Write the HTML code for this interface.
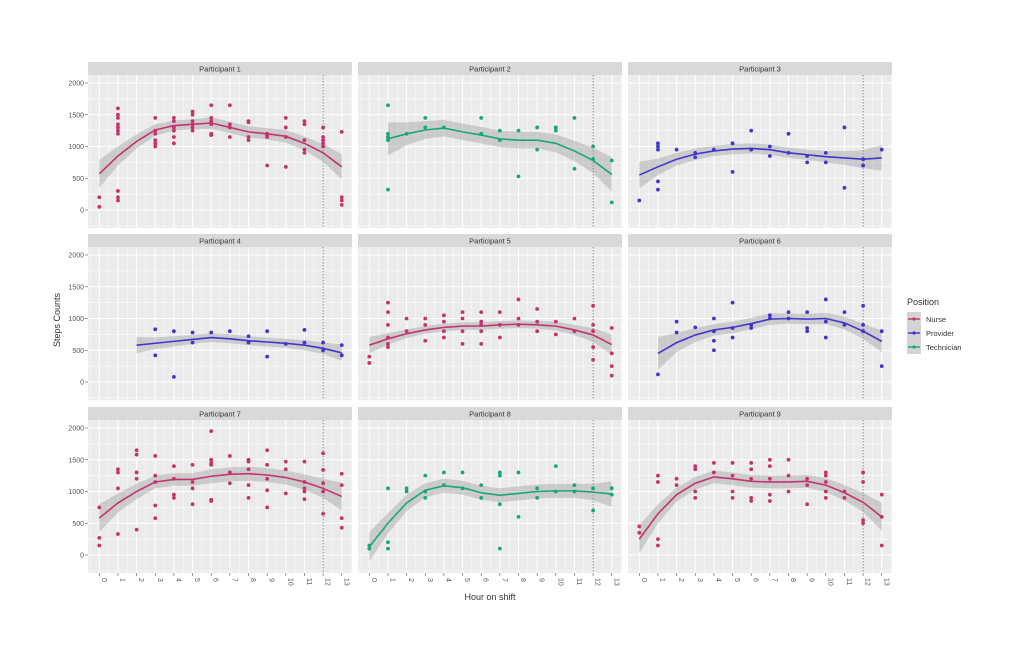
<!DOCTYPE html>
<html><head><meta charset="utf-8"><style>
body{margin:0;background:#fff;}
svg{display:block;font-family:"Liberation Sans",sans-serif;}
</style></head><body>
<svg id="chart" width="1024" height="663" viewBox="0 0 1024 663" xmlns="http://www.w3.org/2000/svg">
<text x="0" y="0" transform="translate(60,320) rotate(-90)" text-anchor="middle" font-size="9" fill="#333">Steps Counts</text>
<text x="490" y="600" text-anchor="middle" font-size="9" fill="#333">Hour on shift</text>
<g>
<text x="907" y="305" font-size="9" fill="#333">Position</text>
</g>
</svg>
<script>
const titles = ["Participant 1","Participant 2","Participant 3","Participant 4","Participant 5","Participant 6","Participant 7","Participant 8","Participant 9"];
const roles = ["nurse","technician","provider","provider","nurse","provider","nurse","technician","nurse"];
const yTicks = [0,500,1000,1500,2000];
const hourTicks = [0,1,2,3,4,5,6,7,8,9,10,11,12,13];
const points = [
 [[0,200],[0,50],[1,1600],[1,1500],[1,1450],[1,1350],[1,1300],[1,1250],[1,1200],[1,300],[1,200],[1,150],[3,1450],[3,1250],[3,1200],[3,1100],[3,1050],[3,1000],[4,1450],[4,1400],[4,1300],[4,1250],[4,1150],[4,1050],[5,1550],[5,1500],[5,1400],[5,1350],[5,1300],[5,1250],[6,1650],[6,1450],[6,1400],[6,1350],[6,1200],[6,1180],[7,1650],[7,1350],[7,1300],[7,1150],[8,1400],[8,1380],[8,1150],[8,1100],[9,1200],[9,1180],[9,1150],[9,700],[10,1450],[10,1300],[10,1150],[10,680],[11,1400],[11,1350],[11,1100],[11,950],[11,900],[12,1300],[12,1150],[12,1100],[12,1050],[12,1000],[13,1230],[13,200],[13,150],[13,80]],
 [[1,1650],[1,1200],[1,1150],[1,1100],[1,320],[2,1200],[3,1450],[3,1300],[4,1300],[6,1450],[6,1200],[7,1250],[7,1100],[8,1250],[8,530],[9,1300],[9,950],[10,1300],[10,1250],[11,1450],[11,650],[12,800],[12,1000],[13,780],[13,120]],
 [[0,150],[1,1050],[1,1000],[1,950],[1,450],[1,320],[2,950],[3,900],[3,830],[4,950],[5,1050],[5,600],[6,1250],[6,950],[7,1000],[7,850],[8,1200],[8,900],[9,850],[9,750],[10,900],[10,750],[11,1300],[11,350],[12,800],[12,700],[13,950]],
 [[3,830],[3,420],[4,800],[4,80],[5,780],[5,620],[6,780],[7,800],[8,720],[8,620],[9,800],[9,400],[10,600],[11,820],[11,620],[12,620],[12,500],[13,580],[13,420]],
 [[0,400],[0,300],[1,1250],[1,1100],[1,900],[1,700],[1,600],[1,550],[2,1000],[2,800],[3,1000],[3,900],[3,650],[4,1050],[4,950],[4,800],[4,700],[5,1100],[5,1000],[5,800],[5,600],[6,1100],[6,950],[6,900],[6,800],[6,600],[7,1100],[7,900],[7,700],[8,1300],[8,1000],[8,900],[9,1150],[9,950],[9,800],[10,950],[10,750],[11,1000],[11,800],[12,1200],[12,900],[12,800],[12,550],[12,350],[13,850],[13,450],[13,250],[13,100]],
 [[1,120],[2,950],[2,780],[3,860],[4,1000],[4,800],[4,650],[4,500],[5,1250],[5,850],[5,700],[6,900],[6,850],[7,1050],[7,1000],[8,1100],[8,1000],[9,1100],[9,850],[9,800],[10,1300],[10,950],[10,700],[11,1100],[11,900],[12,1200],[12,900],[12,800],[13,800],[13,250]],
 [[0,750],[0,270],[0,150],[1,1350],[1,1300],[1,1050],[1,330],[2,1650],[2,1580],[2,1300],[2,1200],[2,400],[3,1560],[3,1250],[3,1150],[3,780],[3,580],[4,1400],[4,950],[4,900],[4,1200],[5,1420],[5,1150],[5,1050],[5,800],[6,1950],[6,1500],[6,1450],[6,1420],[6,870],[6,850],[7,1560],[7,1300],[7,1130],[8,1500],[8,1470],[8,1350],[8,1100],[8,900],[9,1650],[9,1420],[9,1200],[9,1020],[9,750],[10,1470],[10,1350],[10,970],[11,1470],[11,1150],[11,1050],[11,1000],[11,880],[12,1600],[12,1340],[12,1130],[12,1000],[12,650],[13,1280],[13,1100],[13,580],[13,430]],
 [[0,150],[0,100],[1,1050],[1,200],[1,100],[2,1050],[2,1000],[3,1250],[3,1000],[3,900],[4,1300],[4,1100],[5,1300],[5,1050],[6,1100],[6,900],[7,1300],[7,1250],[7,800],[7,100],[8,1300],[8,600],[9,1050],[9,900],[10,1400],[10,1000],[11,1000],[11,1100],[12,1050],[12,700],[13,1050],[13,950]],
 [[0,450],[0,350],[1,1250],[1,1150],[1,250],[1,150],[2,1100],[2,1200],[3,1400],[3,1350],[3,1000],[3,900],[4,1450],[4,1300],[5,1450],[5,1250],[5,1000],[5,900],[6,1450],[6,1350],[6,1200],[6,900],[6,850],[7,1500],[7,1400],[7,1200],[7,950],[7,850],[8,1500],[8,1250],[8,1000],[9,1200],[9,1100],[9,800],[10,1300],[10,1250],[10,1150],[10,1000],[10,900],[11,1000],[11,900],[12,1300],[12,1150],[12,550],[12,500],[13,950],[13,600],[13,150]]
];
const smoothHours = [
 [0,1,2,3,4,5,6,7,8,9,10,11,12,13],[1,2,3,4,5,6,7,8,9,10,11,12,13],[0,1,2,3,4,5,6,7,8,9,10,11,12,13],
 [2,3,4,5,6,7,8,9,10,11,12,13],[0,1,2,3,4,5,6,7,8,9,10,11,12,13],[1,2,3,4,5,6,7,8,9,10,11,12,13],
 [0,1,2,3,4,5,6,7,8,9,10,11,12,13],[0,1,2,3,4,5,6,7,8,9,10,11,12,13],[0,1,2,3,4,5,6,7,8,9,10,11,12,13]
];
const smoothVals = [
 [570,850,1080,1260,1330,1350,1370,1300,1230,1200,1160,1050,900,680],
 [1120,1200,1260,1290,1230,1180,1120,1100,1100,1050,930,780,560],
 [550,680,800,880,930,960,970,950,900,870,840,820,800,820],
 [580,610,640,670,700,680,650,630,610,580,530,460],
 [580,680,760,820,860,880,880,900,910,900,880,820,740,590],
 [450,620,740,820,860,920,990,1000,990,1000,930,800,640],
 [580,820,1000,1150,1190,1190,1240,1270,1280,1260,1220,1150,1050,920],
 [130,500,820,1020,1090,1060,980,940,970,1000,1010,1010,990,960],
 [250,650,950,1130,1230,1200,1160,1150,1150,1160,1100,980,830,600]
];
const bandHalf = [
 [220,150,110,90,80,80,90,90,90,90,100,110,140,200],
 [260,180,140,130,130,130,130,130,130,140,160,200,270],
 [210,130,100,90,80,80,80,80,80,80,90,110,140,200],
 [130,90,80,70,70,70,70,70,70,80,90,130],
 [130,90,70,60,60,60,60,60,60,60,70,80,110,160],
 [260,150,110,90,90,90,90,80,80,90,100,120,170],
 [220,150,120,100,100,100,110,110,110,110,110,120,150,220],
 [230,160,130,110,110,110,110,110,110,110,110,110,130,200],
 [220,150,110,100,100,100,100,100,100,100,110,120,150,220]
];
const roleColor = {nurse:"#c4336f",provider:"#4234cf",technician:"#16a77b"};
const NS="http://www.w3.org/2000/svg";
const svg=document.getElementById("chart");
const colX=[88,358,628], rowY=[62,234,407], PW=264, SH=13, PH=153;
function mk(t,a,p){const e=document.createElementNS(NS,t);for(const k in a)e.setAttribute(k,a[k]);(p||svg).appendChild(e);return e;}
for(let i=0;i<9;i++){
  const c=i%3,r=Math.floor(i/3);
  const x0=colX[c], st=rowY[r], pt=st+SH;
  const xs=h=>x0+11.3+h*18.65;
  const ys=v=>pt+135-v*127/2000;
  const g=mk("g",{});
  
  
  const strip=mk("rect",{x:x0,y:st,width:PW,height:SH,fill:"#d9d9d9"},g);
  
  
  const tt=mk("text",{x:x0+PW/2,y:st+9.5,"text-anchor":"middle","font-size":"7.5",fill:"#333"},g);tt.textContent=titles[i];
  mk("rect",{x:x0,y:pt,width:PW,height:PH,fill:"#ebebeb"},g);
  for(let v=-250;v<=2250;v+=250){const y=ys(v);if(y<pt||y>pt+PH)continue;mk("line",{x1:x0,x2:x0+PW,y1:y,y2:y,stroke:"#fff","stroke-width":v%500===0?1:0.5},g);}
  for(let h=-0.5;h<=13.5;h+=0.5){const x=xs(h);if(x<x0||x>x0+PW)continue;mk("line",{x1:x,x2:x,y1:pt,y2:pt+PH,stroke:"#fff","stroke-width":h%1===0?1:0.5},g);}
  mk("line",{x1:xs(12),x2:xs(12),y1:pt,y2:pt+PH,stroke:"#555","stroke-width":0.7,"stroke-dasharray":"1.5,1.5"},g);
  if(c===0){yTicks.forEach(v=>{const y=ys(v);mk("line",{x1:x0-3,x2:x0,y1:y,y2:y,stroke:"#555","stroke-width":0.6},g);const t=mk("text",{x:x0-4,y:y+2.5,"text-anchor":"end","font-size":"7",fill:"#555"},g);t.textContent=v;});}
  if(r===2){hourTicks.forEach(h=>{const x=xs(h);mk("line",{x1:x,x2:x,y1:pt+PH,y2:pt+PH+3,stroke:"#555","stroke-width":0.6},g);const t=mk("text",{x:0,y:0,transform:`translate(${x+2.5},${pt+PH+5}) rotate(90)`,"font-size":"7",fill:"#555"},g);t.textContent=h;});}
  const col=roleColor[roles[i]];
  const sh=smoothHours[i],sv=smoothVals[i],bh=bandHalf[i];
  let up=[],dn=[];
  for(let k=0;k<sh.length;k++){up.push(xs(sh[k])+","+ys(sv[k]+bh[k]));dn.unshift(xs(sh[k])+","+ys(sv[k]-bh[k]));}
  const band=mk("polygon",{points:up.concat(dn).join(" "),fill:"#999","fill-opacity":0.4},g);
  
  
  let d="";for(let k=0;k<sh.length;k++){d+=(k?"L":"M")+xs(sh[k])+","+ys(sv[k]);}
  const ln=mk("path",{d:d,fill:"none",stroke:col,"stroke-width":1.6},g);
  
  
  points[i].forEach(p=>{const ci=mk("circle",{cx:xs(p[0]),cy:ys(p[1]),r:1.9,fill:col},g);
    
    });
}
const legendItems=["Nurse","Provider","Technician"],legendKeys=["nurse","provider","technician"];
legendItems.forEach((n,k)=>{const y=312+k*14;
  const g=mk("g",{});
  
  
  mk("rect",{x:907,y:y,width:14,height:14,fill:"#d4d4d4"},g);
  mk("line",{x1:908,x2:920,y1:y+7,y2:y+7,stroke:roleColor[legendKeys[k]],"stroke-width":1.4},g);
  mk("circle",{cx:914,cy:y+7,r:1.6,fill:roleColor[legendKeys[k]]},g);
  const t=mk("text",{x:926,y:y+10,"font-size":"7.5",fill:"#333"},g);t.textContent=n;});
</script>
</body></html>
